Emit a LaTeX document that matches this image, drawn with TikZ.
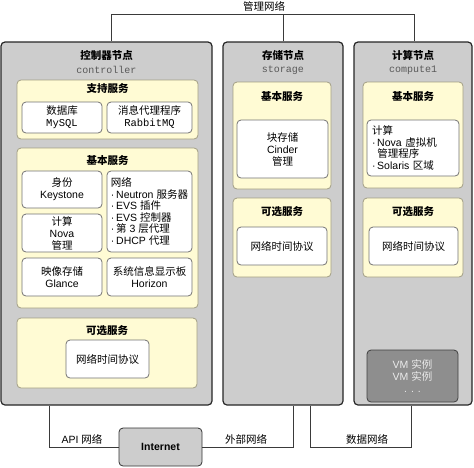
\documentclass[tikz,border=0pt]{standalone}
\usepackage{fontspec}
\setmainfont{Liberation Sans}
\setmonofont{Liberation Mono}
\newfontfamily\cjkfont{Noto Sans CJK SC}
\newcommand{\zh}[1]{{\cjkfont #1}}
\definecolor{hostgray}{HTML}{CDCDCD}
\definecolor{svcyellow}{HTML}{FFFBD4}
\definecolor{svcedge}{HTML}{A29E84}
\definecolor{appedge}{HTML}{747474}
\definecolor{vmgray}{HTML}{8E8E8E}
\definecolor{wirecol}{HTML}{3A3A3A}
\tikzstyle{hostbox}=[rectangle,rounded corners=4pt,draw=black!85,line width=1.2pt,fill=hostgray,inner sep=0]
\tikzstyle{svcbox}=[rectangle,rounded corners=4pt,draw=svcedge,line width=0.8pt,fill=svcyellow,inner sep=0]
\tikzstyle{appbox}=[rectangle,rounded corners=4pt,draw=appedge,line width=0.8pt,fill=white,inner sep=2pt,align=center,font=\fontsize{10.5}{12}\selectfont]
\tikzstyle{vmbox}=[appbox,fill=vmgray,draw=black!75,text=black!8]
\tikzstyle{hosttitle}=[inner sep=1pt,font=\fontsize{10.5}{12}\selectfont\bfseries]
\tikzstyle{hostname}=[inner sep=1pt,text=black!65,font=\fontsize{10}{12}\selectfont\ttfamily]
\tikzstyle{svctitle}=[inner sep=1pt,font=\fontsize{10.5}{12}\selectfont\bfseries]
\tikzstyle{netline}=[draw=wirecol,line width=0.9pt]
\tikzstyle{netlabel}=[inner sep=1pt,font=\fontsize{10.5}{12}\selectfont]

\begin{document}
\begin{tikzpicture}[x=1pt,y=-1pt]
\useasboundingbox (0,0) rectangle (474,467);

% three hosts
\node[hostbox,minimum width=211,minimum height=363] (ctrl) at (106.5,223.5) {};
\node[hostbox,minimum width=120,minimum height=363] (stor) at (283,223.5) {};
\node[hostbox,minimum width=118,minimum height=363] (comp) at (413,223.5) {};
\foreach \n/\x/\t/\h in {ctrl/106.5/控制器节点/controller,stor/283/存储节点/storage,comp/413/计算节点/compute1}{
\node[hosttitle] (\n title) at (\x,55) {\zh{\t}};
\node[hostname] (\n name) at (\x,70) {\h};
}

% controller
\node[svcbox,minimum width=181,minimum height=59] (ctrlsup) at (107.5,109.5) {};
\node[svctitle] (ctrlsuptitle) at (107.5,89) {\zh{支持服务}};
\node[appbox,minimum width=80,minimum height=31] (db) at (62,117.5) {\zh{数据库}\\\texttt{MySQL}};
\node[appbox,minimum width=85,minimum height=31] (mq) at (149.5,117.5) {\zh{消息代理程序}\\\texttt{RabbitMQ}};

\node[svcbox,minimum width=181,minimum height=160] (ctrlbase) at (107.5,228) {};
\node[svctitle] (ctrlbasetitle) at (107.5,161) {\zh{基本服务}};
\node[appbox,minimum width=80,minimum height=37] (ident) at (62,189.5) {\zh{身份}\\Keystone};
\node[appbox,minimum width=80,minimum height=38] (nova) at (62,233) {\zh{计算}\\Nova\\\zh{管理}};
\node[appbox,minimum width=85,minimum height=81,align=left,font=\fontsize{10.5}{11.6}\selectfont] (net) at (149.5,211.5)
{\zh{网络}\\·\,Neutron \zh{服务器}\\·\,EVS \zh{插件}\\·\,EVS \zh{控制器}\\·\,\zh{第} 3 \zh{层代理}\\·\,DHCP \zh{代理}};
\node[appbox,minimum width=80,minimum height=38] (glance) at (62,277) {\zh{映像存储}\\Glance};
\node[appbox,minimum width=85,minimum height=38] (horizon) at (149.5,277) {\zh{系统信息显示板}\\Horizon};

\node[svcbox,minimum width=180,minimum height=70] (ctrlopt) at (107,353) {};
\node[svctitle] (ctrlopttitle) at (107,331) {\zh{可选服务}};
\node[appbox,minimum width=83,minimum height=38] (ctrlntp) at (107.5,359) {\zh{网络时间协议}};

% storage
\node[svcbox,minimum width=98,minimum height=107] (storbase) at (282,135.5) {};
\node[svctitle] (storbasetitle) at (282,97) {\zh{基本服务}};
\node[appbox,minimum width=91,minimum height=58] (cinder) at (282.5,149) {\zh{块存储}\\Cinder\\\zh{管理}};
\node[svcbox,minimum width=98,minimum height=79] (storopt) at (282,237.5) {};
\node[svctitle] (storopttitle) at (282,212) {\zh{可选服务}};
\node[appbox,minimum width=90,minimum height=38] (storntp) at (282,246) {\zh{网络时间协议}};

% compute
\node[svcbox,minimum width=100,minimum height=106] (compbase) at (413,135) {};
\node[svctitle] (compbasetitle) at (413,97) {\zh{基本服务}};
\node[appbox,minimum width=92,minimum height=56,text width=82,align=left,font=\fontsize{10.5}{11.6}\selectfont] (hyper) at (413,148)
{\zh{计算}\\·\,Nova \zh{虚拟机}\\\phantom{·\,}\zh{管理程序}\\·\,Solaris \zh{区域}};
\node[svcbox,minimum width=100,minimum height=79] (compopt) at (413,237.5) {};
\node[svctitle] (compopttitle) at (413,212) {\zh{可选服务}};
\node[appbox,minimum width=89,minimum height=38] (compntp) at (413.5,246) {\zh{网络时间协议}};
\node[vmbox,minimum width=91,minimum height=52] (vm) at (412.5,376) {VM \zh{实例}\\VM \zh{实例}\\. . .};

% internet
\node[appbox,fill=hostgray,draw=black!80,minimum width=83,minimum height=38,font=\fontsize{10.5}{12}\selectfont\bfseries] (inet) at (160.5,447) {Internet};

% networks
\coordinate (mgmtl) at (111,14);
\coordinate (mgmtr) at (414,14);
\draw[netline] (ctrl.north -| mgmtl) |- (mgmtr) -- (comp.north -| mgmtr);
\draw[netline] (stor.north) -- (stor.north |- mgmtl);
\node[netlabel] (mgmtlabel) at (264,6) {\zh{管理网络}};

\coordinate (api) at (49,447);
\draw[netline] (ctrl.south -| api) |- (inet.west);
\node[netlabel] (apilabel) at (82,439) {API \zh{网络}};

\coordinate (ext) at (293,447);
\draw[netline] (inet.east) -| (stor.south -| ext);
\node[netlabel] (extlabel) at (246,439) {\zh{外部网络}};

\coordinate (datal) at (310,447);
\coordinate (datar) at (411,447);
\draw[netline] (stor.south -| datal) |- (datar) -- (comp.south -| datar);
\node[netlabel] (datalabel) at (367,439) {\zh{数据网络}};

\end{tikzpicture}
\end{document}
